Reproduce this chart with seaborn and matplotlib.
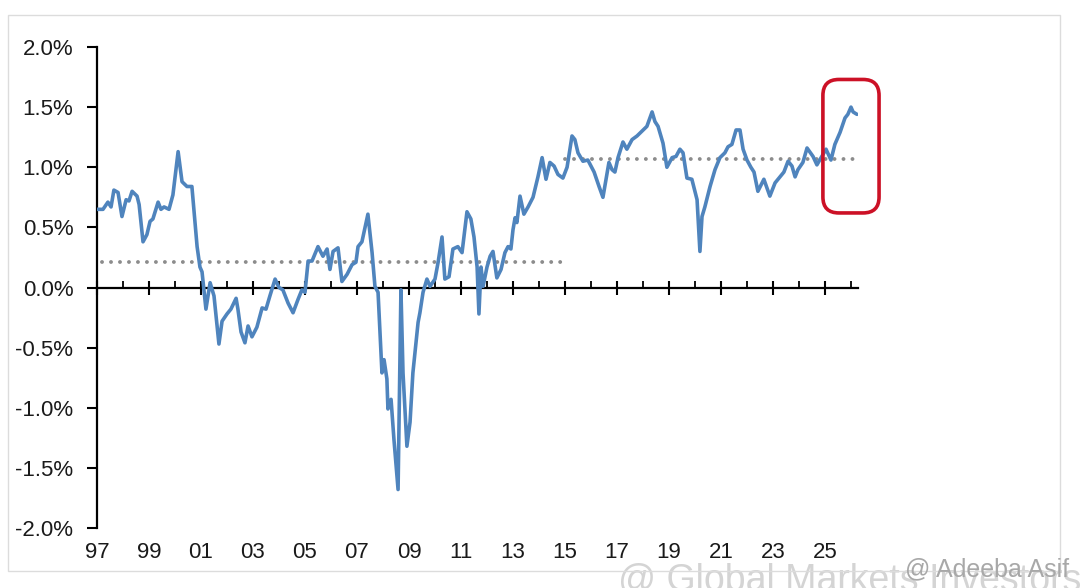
import matplotlib
matplotlib.use("Agg")
import matplotlib.pyplot as plt
import seaborn as sns
import pandas as pd
from matplotlib.patches import FancyBboxPatch, Rectangle
from matplotlib.transforms import IdentityTransform
from matplotlib.ticker import FixedLocator, FuncFormatter

# ---------------- data (values in %) ----------------
years = [
    1997.00, 1997.23, 1997.42, 1997.54, 1997.65, 1997.81, 1997.96, 1998.12, 1998.23, 1998.35,
    1998.54, 1998.62, 1998.77, 1998.92, 1999.04, 1999.15, 1999.35, 1999.46, 1999.58, 1999.77,
    1999.92, 2000.12, 2000.27, 2000.46, 2000.65, 2000.85, 2000.96, 2001.04, 2001.19, 2001.35,
    2001.50, 2001.69, 2001.81, 2002.00, 2002.15, 2002.35, 2002.42, 2002.54, 2002.69, 2002.81,
    2002.96, 2003.15, 2003.35, 2003.50, 2003.65, 2003.85, 2004.00, 2004.15, 2004.35, 2004.54,
    2004.73, 2004.88, 2005.00, 2005.12, 2005.27, 2005.50, 2005.69, 2005.85, 2005.96, 2006.08,
    2006.27, 2006.42, 2006.62, 2006.81, 2006.96, 2007.04, 2007.19, 2007.27, 2007.42, 2007.58,
    2007.69, 2007.81, 2007.96, 2008.04, 2008.15, 2008.19, 2008.31, 2008.42, 2008.58, 2008.69,
    2008.77, 2008.92, 2009.04, 2009.15, 2009.35, 2009.42, 2009.54, 2009.69, 2009.81, 2010.00,
    2010.12, 2010.27, 2010.38, 2010.54, 2010.69, 2010.88, 2011.04, 2011.23, 2011.38, 2011.50,
    2011.62, 2011.69, 2011.77, 2011.85, 2012.00, 2012.12, 2012.23, 2012.38, 2012.54, 2012.69,
    2012.81, 2012.92, 2013.00, 2013.08, 2013.15, 2013.27, 2013.42, 2013.58, 2013.77, 2013.96,
    2014.12, 2014.27, 2014.42, 2014.58, 2014.73, 2014.92, 2015.08, 2015.27, 2015.38, 2015.50,
    2015.69, 2015.88, 2016.12, 2016.31, 2016.46, 2016.58, 2016.69, 2016.81, 2016.92, 2017.04,
    2017.23, 2017.38, 2017.58, 2017.77, 2017.96, 2018.15, 2018.35, 2018.46, 2018.58, 2018.77,
    2018.92, 2019.12, 2019.27, 2019.42, 2019.54, 2019.69, 2019.88, 2020.08, 2020.19, 2020.27,
    2020.38, 2020.58, 2020.77, 2020.96, 2021.15, 2021.27, 2021.42, 2021.58, 2021.73, 2021.85,
    2022.00, 2022.15, 2022.27, 2022.42, 2022.65, 2022.88, 2023.08, 2023.27, 2023.42, 2023.58,
    2023.73, 2023.85, 2023.96, 2024.15, 2024.31, 2024.54, 2024.69, 2024.88, 2025.04, 2025.23,
    2025.38, 2025.58, 2025.77, 2025.88, 2026.00, 2026.08, 2026.23,
]
values = [
    0.65, 0.65, 0.71, 0.67, 0.81, 0.79, 0.59, 0.73, 0.72, 0.80,
    0.76, 0.69, 0.38, 0.44, 0.55, 0.57, 0.71, 0.65, 0.67, 0.65,
    0.77, 1.13, 0.88, 0.84, 0.84, 0.34, 0.17, 0.13, -0.18, 0.04,
    -0.07, -0.47, -0.28, -0.22, -0.18, -0.09, -0.18, -0.37, -0.46, -0.32,
    -0.41, -0.33, -0.17, -0.18, -0.07, 0.07, 0.00, -0.02, -0.13, -0.21,
    -0.10, -0.02, -0.04, 0.22, 0.22, 0.34, 0.26, 0.32, 0.15, 0.30,
    0.33, 0.05, 0.11, 0.19, 0.21, 0.34, 0.38, 0.46, 0.61, 0.29,
    0.01, -0.04, -0.71, -0.60, -0.76, -1.01, -0.93, -1.26, -1.68, -0.02,
    -0.71, -1.32, -1.12, -0.71, -0.29, -0.21, -0.04, 0.07, 0.01, 0.07,
    0.21, 0.42, 0.07, 0.09, 0.32, 0.34, 0.29, 0.63, 0.57, 0.42,
    0.17, -0.22, 0.17, 0.01, 0.17, 0.26, 0.30, 0.08, 0.15, 0.29,
    0.34, 0.32, 0.48, 0.58, 0.54, 0.76, 0.61, 0.67, 0.75, 0.92,
    1.08, 0.90, 1.04, 1.01, 0.94, 0.91, 1.00, 1.26, 1.23, 1.12,
    1.05, 1.06, 0.96, 0.84, 0.75, 0.90, 1.04, 0.98, 0.96, 1.08,
    1.21, 1.15, 1.23, 1.26, 1.30, 1.34, 1.46, 1.38, 1.34, 1.20,
    1.00, 1.08, 1.09, 1.15, 1.12, 0.91, 0.90, 0.73, 0.30, 0.59,
    0.67, 0.84, 0.98, 1.08, 1.12, 1.17, 1.19, 1.31, 1.31, 1.15,
    1.06, 1.00, 0.96, 0.80, 0.90, 0.76, 0.87, 0.92, 0.96, 1.05,
    1.01, 0.92, 0.98, 1.04, 1.16, 1.09, 1.02, 1.09, 1.15, 1.06,
    1.19, 1.29, 1.41, 1.44, 1.50, 1.46, 1.44,
]

# period averages (dotted lines)
avg_start = [1997.2, 2015.0]
avg_end = [2015.0, 2026.25]
avg_level = [0.21, 1.07]

# x tick labels
xtick_years = list(range(1997, 2026, 2))
xtick_labels = ["97", "99", "01", "03", "05", "07", "09", "11", "13",
                "15", "17", "19", "21", "23", "25"]
minor_years = list(range(1998, 2027, 2))
ytick_values = [-2.0, -1.5, -1.0, -0.5, 0.0, 0.5, 1.0, 1.5, 2.0]

# highlight box (data units)
box_x = [2024.92, 2027.08]
box_y = [0.62, 1.73]

# ---------------- style ----------------
sns.set_theme(style="white")
plt.rcParams["font.family"] = ["Liberation Sans", "DejaVu Sans"]

LINE_COLOR = "#4f84bd"
FS = 16

fig = plt.figure(figsize=(10.8, 5.88), dpi=100)
fig.patch.set_facecolor("white")
ax = fig.add_axes([97 / 1080, 1 - 528 / 588, (858 - 97) / 1080, (528 - 47) / 588])
ax.set_facecolor("white")

df = pd.DataFrame({"year": years, "value": values})
sns.lineplot(data=df, x="year", y="value", ax=ax, color=LINE_COLOR,
             linewidth=2.6, zorder=3, sort=False)

for s, e, lv in zip(avg_start, avg_end, avg_level):
    ax.plot([s, e], [lv, lv], color="#8c8c8c", linewidth=2.8,
            linestyle=(0, (0.01, 2.3)), zorder=2, dash_capstyle="round")

ax.set_xlim(1997, 2026.27)
ax.set_ylim(-2.0, 2.0)
ax.set_xlabel("")
ax.set_ylabel("")

# spines
for side in ["top", "right"]:
    ax.spines[side].set_visible(False)
ax.spines["left"].set_color("black")
ax.spines["left"].set_linewidth(1.6)
ax.spines["bottom"].set_position(("data", 0))
ax.spines["bottom"].set_color("black")
ax.spines["bottom"].set_linewidth(1.6)

# y axis
ax.yaxis.set_major_locator(FixedLocator(ytick_values))
ax.yaxis.set_major_formatter(FuncFormatter(lambda v, p: f"{v:.1f}%"))
ax.tick_params(axis="y", which="major", direction="out", length=7, width=1.5,
               color="black", labelsize=FS, pad=10, labelcolor="#1a1a1a", left=True)

# x axis ticks on the zero line
ax.xaxis.set_major_locator(FixedLocator(xtick_years))
ax.xaxis.set_minor_locator(FixedLocator(minor_years))
ax.tick_params(axis="x", which="major", direction="inout", length=10, width=1.5,
               color="black", labelbottom=False, bottom=True)
ax.tick_params(axis="x", which="minor", direction="in", length=5, width=1.3,
               color="black", bottom=True)

# labels at the bottom
sec = ax.secondary_xaxis("bottom")
sec.set_xticks(xtick_years, xtick_labels)
sec.tick_params(axis="x", length=0, pad=10, labelsize=FS, labelcolor="#1a1a1a")
sec.spines["bottom"].set_visible(False)

# highlight box
fig.canvas.draw()
(px0, py0), (px1, py1) = ax.transData.transform([(box_x[0], box_y[0]), (box_x[1], box_y[1])])
box = FancyBboxPatch((px0, py0), px1 - px0, py1 - py0,
                     boxstyle="round,pad=0,rounding_size=16",
                     transform=IdentityTransform(), fill=False,
                     edgecolor="#cc1126", linewidth=2.6, clip_on=False, zorder=5)
fig.add_artist(box)

# frame
fig.add_artist(Rectangle((8 / 1080, 1 - 571 / 588), (1060 - 8) / 1080, (571 - 15) / 588,
                         transform=fig.transFigure, fill=False,
                         edgecolor="#dcdcdc", linewidth=1.0))

# watermarks
fig.text(905 / 1080, 1 - 576 / 588, "@ Adeeba Asif", fontsize=18,
         color="#a8a8a8", ha="left", va="baseline")
fig.text(618 / 1080, 1 - 590 / 588, "@ Global Markets Investors", fontsize=27,
         color="#d4d4d4", ha="left", va="baseline", zorder=0)

fig.savefig("out.png", dpi=100, facecolor="white")
